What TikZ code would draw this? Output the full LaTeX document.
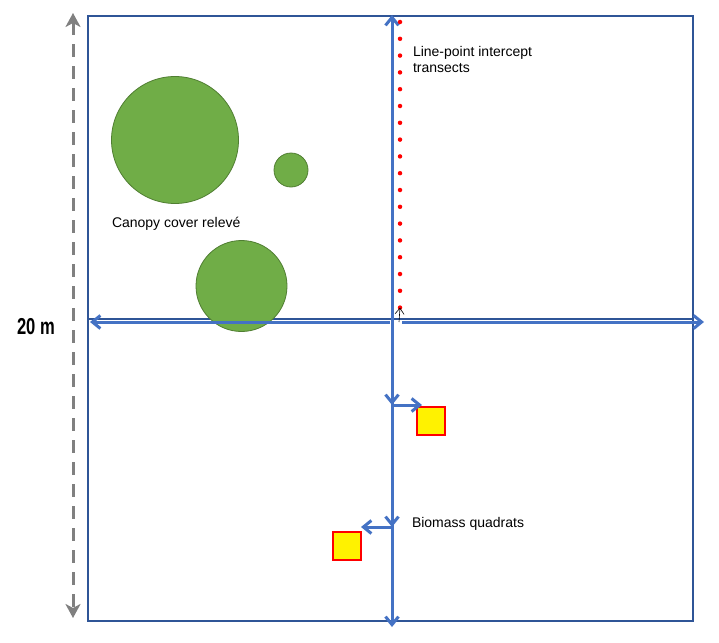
\documentclass[tikz,border=0pt]{standalone}
\usepackage{fontspec}
\setmainfont{Liberation Sans}
\usepackage{tikz}
\usetikzlibrary{arrows.meta}
\usetikzlibrary{positioning}
\definecolor{plotblue}{HTML}{2F5597}
\definecolor{axisblue}{HTML}{4472C4}
\definecolor{leafgreen}{HTML}{70AD47}
\definecolor{leafedge}{HTML}{507E32}
\definecolor{dimgray}{HTML}{808080}
\tikzset{
% Define standard arrow tip
>={Straight Barb[length=8pt, width=13pt]},
axis/.style={draw=axisblue, line width=3pt},
canopy/.style={circle, draw=leafedge, fill=leafgreen, line width=0.8pt, inner sep=0},
quadrat/.style={rectangle, draw=red, fill=yellow, line width=2pt, minimum size=28pt, inner sep=0},
pin/.style={circle, fill=red, minimum size=4.5pt, inner sep=0},
caption/.style={font=\fontsize{14}{16}\selectfont, align=left, inner sep=0}
}

\begin{document}
\begin{tikzpicture}[x=1pt, y=-1pt, outer sep=0]
  \useasboundingbox (0,0) rectangle (719,642);

  \node[rectangle, draw=plotblue, line width=2pt,
    minimum size = 605pt] (plot) at (390.5, 318.5) {};
  \draw[plotblue, line width=2pt] (plot.west) -- (plot.east);

  % canopy
  \node[canopy, minimum size=127pt] (tree1) at (175, 140) {};
  \node[canopy, minimum size=34pt] (tree2) at (291, 170) {};
  \node[canopy, minimum size=91pt] (tree3) at (241.5, 286) {};
  \node[caption, anchor=west] (canopylbl) at (112, 224) {Canopy cover relevé};

  % transects
  \coordinate (vtop) at (392, 15);
  \coordinate (vbot) at (392, 627);
  \coordinate (vmid) at (392, 322);
  \coordinate (hcl) at (390, 322);
  \coordinate (hcr) at (402, 322);
  \coordinate (hwest) at (90, 322);
  \coordinate (heast) at (704, 322);
  \coordinate (hmid) at (399, 322);

  \draw[axis, <->] (vtop) -- (vbot);
  \draw[axis, ->] (hcl) -- (hwest);
  \draw[axis, ->] (hcr) -- (heast);

  \foreach \i in {0,...,17}
    \node[pin] (dot\i) at (400, 22+16.8*\i) {};
  \draw[-{Straight Barb[length=6pt, width=9pt]}, black, line width=0.6pt] (hmid) -- (dot17.center);
  \node[caption, anchor=west] (transectlbl) at (413, 59) {Line-point intercept\\transects};

  % quadrats
  \node[quadrat] (quad1) at (431, 420.5) {};
  \node[quadrat] (quad2) at (347, 546) {};
  \coordinate (split1) at (392, 405);
  \coordinate (split2) at (392, 527);

  \draw[axis, ->] (vmid) -- (split1);
  \draw[axis, ->] (split1) -- (split2);
  \draw[axis, ->] (split1) -- ([xshift=5pt]quad1.west |- split1);
  \draw[axis, ->] (split2) -- (quad2.east |- split2);
  \node[caption, anchor=west] (quadlbl) at (412, 524) {Biomass quadrats};

  % dimension
  \coordinate (dimtop) at (73, 13);
  \coordinate (dimbot) at (73, 618);
  \draw[dimgray, line width=3pt, dash pattern=on 13pt off 9pt,
    {Stealth[length=14pt, width=15pt, inset=4pt]}-{Stealth[length=14pt, width=15pt, inset=4pt]}] (dimtop) -- (dimbot);
  \node[anchor=west, inner sep=0] (dimlbl) at (17, 327)
    {\fontsize{23}{26}\selectfont\bfseries\scalebox{0.72}[1]{20 m}};
\end{tikzpicture}
\end{document}
